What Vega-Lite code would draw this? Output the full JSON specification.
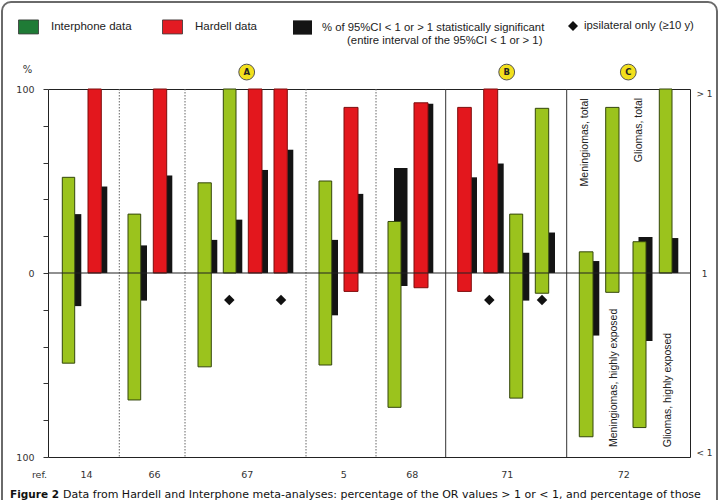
{
  "$schema": "https://vega.github.io/schema/vega-lite/v6.json",
  "width": 642,
  "height": 368,
  "autosize": {"type": "none"},
  "padding": {"left": 48, "top": 89, "right": 30, "bottom": 43},
  "background": "white",
  "config": {"view": {"stroke": "#222", "strokeWidth": 1}, "font": "DejaVu Sans"},
  "datasets": {
    "main": [
      {"study": "14", "source": "Interphone data", "x": 14.3, "x2": 26.7, "hi": 52, "lo": -49},
      {"study": "14", "source": "Hardell data", "x": 40, "x2": 53.3, "hi": 100, "lo": 0},
      {"study": "66", "source": "Interphone data", "x": 80, "x2": 92.7, "hi": 32, "lo": -69},
      {"study": "66", "source": "Hardell data", "x": 105.3, "x2": 118.7, "hi": 100, "lo": 0},
      {"study": "67", "source": "Interphone data", "x": 150, "x2": 163.3, "hi": 49, "lo": -51},
      {"study": "67", "source": "Interphone data", "x": 175.3, "x2": 188, "hi": 100, "lo": 0},
      {"study": "67", "source": "Hardell data", "x": 200.3, "x2": 214, "hi": 100, "lo": 0},
      {"study": "67", "source": "Hardell data", "x": 226, "x2": 239.3, "hi": 100, "lo": 0},
      {"study": "5", "source": "Interphone data", "x": 271, "x2": 283.7, "hi": 50, "lo": -50},
      {"study": "5", "source": "Hardell data", "x": 296, "x2": 310, "hi": 90, "lo": -10},
      {"study": "68", "source": "Interphone data", "x": 340, "x2": 353, "hi": 28, "lo": -73},
      {"study": "68", "source": "Hardell data", "x": 366, "x2": 380, "hi": 92.5, "lo": -8},
      {"study": "71", "source": "Hardell data", "x": 409.7, "x2": 423.3, "hi": 90, "lo": -10},
      {"study": "71", "source": "Hardell data", "x": 435.7, "x2": 449.7, "hi": 100, "lo": 0},
      {"study": "71", "source": "Interphone data", "x": 461.7, "x2": 474.7, "hi": 32, "lo": -68},
      {"study": "71", "source": "Interphone data", "x": 487.3, "x2": 500.7, "hi": 89.5, "lo": -11},
      {"study": "72", "source": "Interphone data", "x": 531.3, "x2": 545, "hi": 11.5, "lo": -89},
      {"study": "72", "source": "Interphone data", "x": 557.7, "x2": 571, "hi": 90, "lo": -10.5},
      {"study": "72", "source": "Interphone data", "x": 585, "x2": 598, "hi": 17, "lo": -84},
      {"study": "72", "source": "Interphone data", "x": 611.3, "x2": 624, "hi": 100, "lo": 0}
    ],
    "sig": [
      {"what": "significant", "x": 26.7, "x2": 33.3, "hi": 32, "lo": -18},
      {"what": "significant", "x": 53.3, "x2": 59.3, "hi": 47, "lo": 0},
      {"what": "significant", "x": 92.7, "x2": 99, "hi": 15, "lo": -15},
      {"what": "significant", "x": 118.7, "x2": 124.3, "hi": 53, "lo": 0},
      {"what": "significant", "x": 163.3, "x2": 169.3, "hi": 18, "lo": 0},
      {"what": "significant", "x": 188, "x2": 194.3, "hi": 29, "lo": 0},
      {"what": "significant", "x": 214, "x2": 220, "hi": 56, "lo": 0},
      {"what": "significant", "x": 239.3, "x2": 245.3, "hi": 67, "lo": 0},
      {"what": "significant", "x": 283.7, "x2": 290, "hi": 18, "lo": -23},
      {"what": "significant", "x": 310, "x2": 315.3, "hi": 43, "lo": 0},
      {"what": "significant", "x": 346, "x2": 359.5, "hi": 57, "lo": -7},
      {"what": "significant", "x": 378.7, "x2": 385.3, "hi": 92, "lo": 0},
      {"what": "significant", "x": 423.3, "x2": 429, "hi": 52, "lo": 0},
      {"what": "significant", "x": 449.7, "x2": 455.7, "hi": 59.5, "lo": 0},
      {"what": "significant", "x": 474.7, "x2": 481.3, "hi": 11, "lo": -15},
      {"what": "significant", "x": 500.7, "x2": 507, "hi": 22, "lo": 0},
      {"what": "significant", "x": 545, "x2": 551.3, "hi": 6.5, "lo": -34},
      {"what": "significant", "x": 590.5, "x2": 604.5, "hi": 19.5, "lo": -37},
      {"what": "significant", "x": 624, "x2": 630.3, "hi": 19, "lo": 0}
    ],
    "ipsi": [
      {"what": "ipsilateral only (≥10 y)", "x": 181.3, "y": -14.7},
      {"what": "ipsilateral only (≥10 y)", "x": 233, "y": -14.7},
      {"what": "ipsilateral only (≥10 y)", "x": 441.3, "y": -14.7},
      {"what": "ipsilateral only (≥10 y)", "x": 494, "y": -14.7}
    ],
    "dividers": [
      {"x": 71.3, "kind": "dotted"},
      {"x": 137, "kind": "dotted"},
      {"x": 258, "kind": "dotted"},
      {"x": 328, "kind": "dotted"},
      {"x": 397.7, "kind": "solid"},
      {"x": 518.7, "kind": "solid"}
    ],
    "notes": [
      {"text": "Meningiomas, total", "x": 537, "y": 71},
      {"text": "Gliomas, total", "x": 591, "y": 77.7},
      {"text": "Meningiomas, highly exposed", "x": 566, "y": -57},
      {"text": "Gliomas, highly exposed", "x": 620, "y": -63.6}
    ],
    "markers": [
      {"label": "A", "x": 198.7, "y": 109.2},
      {"label": "B", "x": 458.7, "y": 109.2},
      {"label": "C", "x": 580.3, "y": 109.2}
    ]
  },
  "layer": [
    {
      "data": {"values": [{}]},
      "mark": {"type": "rect", "fill": null, "fillOpacity": 0, "stroke": "#6a6a6a", "strokeWidth": 2, "cornerRadius": 9},
      "encoding": {
        "x": {"datum": -46, "type": "quantitative", "scale": {"domain": [0, 642], "nice": false, "zero": false}, "axis": null},
        "x2": {"datum": 669},
        "y": {"datum": 147.3, "type": "quantitative", "scale": {"domain": [-100, 100], "nice": false}, "axis": null},
        "y2": {"datum": -135}
      }
    },
    {
      "data": {"name": "dividers"},
      "mark": {"type": "rule", "strokeWidth": 1},
      "encoding": {
        "x": {"field": "x", "type": "quantitative", "scale": {"domain": [0, 642], "nice": false, "zero": false}, "axis": null},
        "color": {"condition": {"test": "datum.kind == 'dotted'", "value": "#666"}, "value": "#333"},
        "strokeDash": {"condition": {"test": "datum.kind == 'dotted'", "value": [1.5, 1.5]}, "value": [1, 0]}
      }
    },
    {
      "data": {"name": "sig"},
      "mark": {"type": "bar"},
      "encoding": {
        "x": {"field": "x", "type": "quantitative", "scale": {"domain": [0, 642], "nice": false, "zero": false}, "axis": null},
        "x2": {"field": "x2"},
        "y": {"field": "hi", "type": "quantitative", "scale": {"domain": [-100, 100], "nice": false}, "axis": null},
        "y2": {"field": "lo"},
        "color": {
          "field": "what", "type": "nominal",
          "scale": {"range": ["#141414"]},
          "legend": {
            "orient": "none", "legendX": 244, "legendY": -72, "title": null, "padding": 0,
            "symbolType": "M-1,-0.75H1V0.75H-1Z", "symbolSize": 361, "labelOffset": 9,
            "labelFont": "Liberation Sans", "labelFontSize": 11.3, "labelColor": "#222", "labelLimit": 400,
            "labelExpr": "['% of 95%CI < 1 or > 1 statistically significant', '\u200b\u00a0\u00a0\u00a0\u00a0\u00a0\u00a0\u00a0\u00a0(entire interval of the 95%CI < 1 or > 1)']"
          }
        }
      }
    },
    {
      "data": {"name": "main"},
      "transform": [{"filter": "false"}],
      "mark": {"type": "bar"},
      "encoding": {
        "x": {"field": "x", "type": "quantitative", "scale": {"domain": [0, 642], "nice": false, "zero": false}, "axis": null},
        "x2": {"field": "x2"},
        "y": {"field": "hi", "type": "quantitative", "scale": {"domain": [-100, 100], "nice": false}, "axis": null},
        "y2": {"field": "lo"},
        "fill": {
          "field": "source", "type": "nominal",
          "scale": {"domain": ["Interphone data", "Hardell data"], "range": ["#1f7b36", "#e31a22"]},
          "legend": {
            "orient": "none", "legendX": -30, "legendY": -73, "direction": "horizontal", "title": null, "padding": 0,
            "symbolType": "M-1,-0.7H1V0.7H-1Z", "symbolSize": 400, "labelOffset": 12, "columnPadding": 28,
            "labelFont": "Liberation Sans", "labelFontSize": 11.5, "labelColor": "#222",
            "symbolStrokeWidth": 0.8, "symbolStrokeColor": "#333", "symbolOpacity": 1
          }
        }
      }
    },
    {
      "data": {"name": "main"},
      "mark": {"type": "bar", "strokeWidth": 1},
      "encoding": {
        "x": {
          "field": "x", "type": "quantitative",
          "scale": {"domain": [0, 642], "nice": false, "zero": false},
          "axis": {
            "orient": "bottom", "values": [38, 106, 198.7, 295.3, 363.7, 458.7, 575.3],
            "labelExpr": "datum.value < 60 ? '14' : datum.value < 150 ? '66' : datum.value < 250 ? '67' : datum.value < 330 ? '5' : datum.value < 400 ? '68' : datum.value < 520 ? '71' : '72'",
            "ticks": false, "domain": false, "grid": false, "labelPadding": 12,
            "labelFont": "DejaVu Sans", "labelFontSize": 9.5, "labelColor": "#333", "labelFlush": false, "labelOverlap": false,
            "title": "ref.", "titleX": -9, "titleY": 12, "titleAlign": "center", "titleBaseline": "top",
            "titleFont": "DejaVu Sans", "titleFontSize": 9.5, "titleFontWeight": "normal", "titleColor": "#333"
          }
        },
        "x2": {"field": "x2"},
        "y": {
          "field": "hi", "type": "quantitative",
          "scale": {"domain": [-100, 100], "nice": false},
          "axis": {
            "orient": "left", "values": [-100, -80, -60, -40, -20, 0, 20, 40, 60, 80, 100],
            "labelExpr": "abs(datum.value) == 100 || datum.value == 0 ? format(abs(datum.value), 'd') : ''",
            "tickSize": 5, "tickColor": "#333", "domain": false, "grid": false, "labelPadding": 9,
            "labelFont": "DejaVu Sans", "labelFontSize": 9.5, "labelColor": "#333", "labelFlush": false,
            "title": "%", "titleAngle": 0, "titleX": -21, "titleY": -20, "titleAlign": "center", "titleBaseline": "middle",
            "titleFont": "DejaVu Sans", "titleFontSize": 10, "titleFontWeight": "normal", "titleColor": "#333"
          }
        },
        "y2": {"field": "lo"},
        "fill": {"condition": {"test": "datum.source == 'Interphone data'", "value": "#9bc31d"}, "value": "#e3171d"},
        "stroke": {"condition": {"test": "datum.source == 'Interphone data'", "value": "#34470c"}, "value": "#7d0d0d"}
      }
    },
    {
      "data": {"name": "ipsi"},
      "mark": {"type": "point", "filled": true, "size": 110, "color": "#111", "opacity": 1},
      "encoding": {
        "x": {"field": "x", "type": "quantitative", "scale": {"domain": [0, 642], "nice": false, "zero": false}, "axis": null},
        "y": {"field": "y", "type": "quantitative", "scale": {"domain": [-100, 100], "nice": false}, "axis": null},
        "shape": {
          "field": "what", "type": "nominal",
          "scale": {"range": ["diamond"]},
          "legend": {
            "orient": "none", "legendX": 519, "legendY": -69, "title": null, "padding": 0,
            "symbolSize": 100, "labelOffset": 5, "symbolFillColor": "#111", "symbolStrokeColor": "#111",
            "labelFont": "Liberation Sans", "labelFontSize": 11.3, "labelColor": "#222"
          }
        }
      }
    },
    {
      "data": {"values": [{"v": 0}]},
      "mark": {"type": "rule", "color": "#222", "strokeWidth": 1.2},
      "encoding": {
        "y": {
          "field": "v", "type": "quantitative",
          "scale": {"domain": [-100, 100], "nice": false},
          "axis": {
            "orient": "right", "values": [-100, 0, 100],
            "labelExpr": "datum.value == 100 ? '> 1' : datum.value == 0 ? '1' : '< 1'",
            "ticks": false, "domain": false, "grid": false, "labelPadding": 14, "labelAlign": "center",
            "labelFlush": true, "labelFont": "DejaVu Sans", "labelFontSize": 9, "labelColor": "#333", "title": null
          }
        }
      }
    },
    {
      "data": {"name": "notes"},
      "mark": {"type": "text", "angle": 270, "align": "center", "baseline": "middle", "font": "Liberation Sans", "fontSize": 10.5, "color": "#222"},
      "encoding": {
        "x": {"field": "x", "type": "quantitative", "scale": {"domain": [0, 642], "nice": false, "zero": false}, "axis": null},
        "y": {"field": "y", "type": "quantitative", "scale": {"domain": [-100, 100], "nice": false}, "axis": null},
        "text": {"field": "text"}
      }
    },
    {
      "data": {"name": "markers"},
      "mark": {"type": "point", "shape": "circle", "filled": true, "size": 250, "fill": "#f2e01c", "stroke": "#555", "strokeWidth": 1, "opacity": 1},
      "encoding": {
        "x": {"field": "x", "type": "quantitative", "scale": {"domain": [0, 642], "nice": false, "zero": false}, "axis": null},
        "y": {"field": "y", "type": "quantitative", "scale": {"domain": [-100, 100], "nice": false}, "axis": null}
      }
    },
    {
      "data": {"name": "markers"},
      "mark": {"type": "text", "align": "center", "baseline": "middle", "font": "DejaVu Sans", "fontSize": 8.5, "fontWeight": "bold", "color": "#222"},
      "encoding": {
        "x": {"field": "x", "type": "quantitative", "scale": {"domain": [0, 642], "nice": false, "zero": false}, "axis": null},
        "y": {"field": "y", "type": "quantitative", "scale": {"domain": [-100, 100], "nice": false}, "axis": null},
        "text": {"field": "label"}
      }
    },
    {
      "data": {"values": [{"t": "Figure 2"}]},
      "mark": {"type": "text", "align": "left", "baseline": "alphabetic", "font": "DejaVu Sans", "fontSize": 10.5, "fontWeight": "bold", "color": "#111"},
      "encoding": {
        "x": {"datum": -38, "type": "quantitative", "scale": {"domain": [0, 642], "nice": false, "zero": false}, "axis": null},
        "y": {"datum": -122.3, "type": "quantitative", "scale": {"domain": [-100, 100], "nice": false}, "axis": null},
        "text": {"field": "t"}
      }
    },
    {
      "data": {"values": [{"t": "Data from Hardell and Interphone meta-analyses: percentage of the OR values > 1 or < 1, and percentage of those"}]},
      "mark": {"type": "text", "align": "left", "baseline": "alphabetic", "font": "DejaVu Sans", "fontSize": 11, "color": "#111"},
      "encoding": {
        "x": {"datum": 15, "type": "quantitative", "scale": {"domain": [0, 642], "nice": false, "zero": false}, "axis": null},
        "y": {"datum": -122.3, "type": "quantitative", "scale": {"domain": [-100, 100], "nice": false}, "axis": null},
        "text": {"field": "t"}
      }
    }
  ],
  "resolve": {"axis": {"x": "independent", "y": "independent"}}
}
